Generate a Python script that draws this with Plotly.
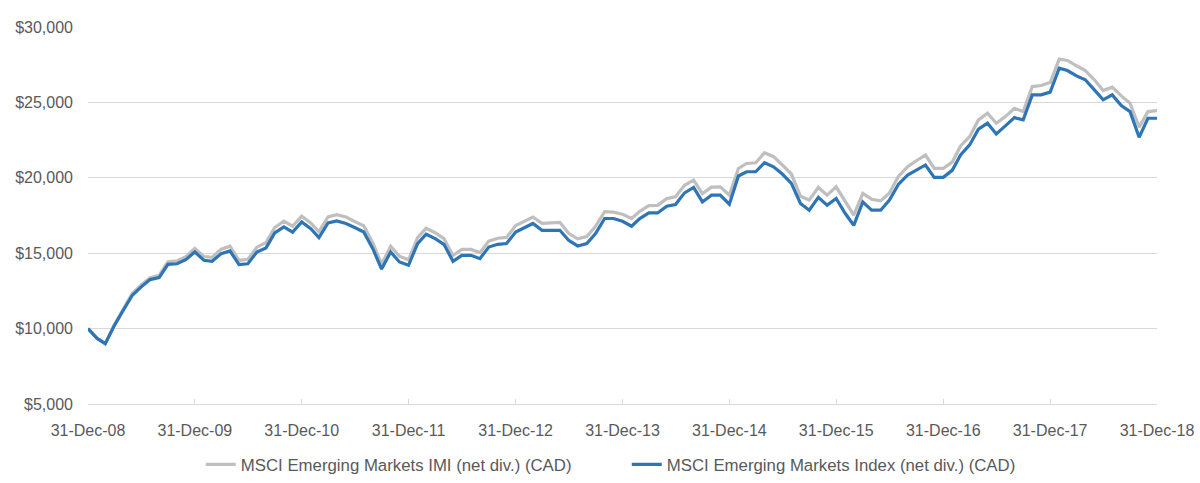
import pandas as pd
import plotly.graph_objects as go

# ---------------- DATA ----------------
start_date = "2008-12-31"
n_months = 121

index_values = [
    10000,
    9350, 9000, 10200, 11200, 12200, 12750, 13250, 13380, 14260, 14300, 14570, 15080,
    14530, 14460, 14970, 15150, 14240, 14300, 15080, 15350, 16340, 16740, 16400, 17070,
    16630, 16040, 17010, 17140, 16970, 16700, 16410, 15300, 13950, 15080, 14420, 14200,
    15640, 16260, 15970, 15590, 14460, 14860, 14860, 14640, 15410, 15590, 15640, 16410,
    16700, 16970, 16520, 16520, 16520, 15860, 15480, 15640, 16300, 17300, 17300, 17120,
    16790, 17300, 17670, 17670, 18120, 18230, 19000, 19360, 18400, 18850, 18850, 18250,
    20120, 20400, 20400, 21000, 20730, 20250, 19630, 18300, 17850, 18700, 18190, 18630,
    17630, 16850, 18400, 17850, 17850, 18520, 19580, 20180, 20510, 20850, 20030, 20030,
    20510, 21510, 22180, 23220, 23620, 22910, 23440, 23990, 23840, 25500, 25500, 25680,
    27270, 27110, 26760, 26500, 25830, 25170, 25500, 24790, 24390, 22690, 23950, 23950,
]

imi_values = [
    10000,
    9360, 9020, 10250, 11280, 12330, 12880, 13380, 13530, 14430, 14490, 14770, 15320,
    14780, 14720, 15260, 15460, 14520, 14600, 15400, 15700, 16700, 17130, 16790, 17450,
    17000, 16430, 17400, 17550, 17400, 17100, 16820, 15680, 14280, 15450, 14800, 14560,
    16030, 16650, 16360, 15960, 14850, 15250, 15250, 15040, 15800, 15990, 16050, 16830,
    17140, 17400, 16980, 17000, 17050, 16320, 15950, 16100, 16780, 17750, 17720, 17580,
    17300, 17780, 18150, 18170, 18620, 18740, 19500, 19850, 18950, 19380, 19400, 18850,
    20620, 20950, 21000, 21660, 21400, 20850, 20250, 18780, 18520, 19360, 18850, 19400,
    18400, 17520, 18960, 18580, 18470, 19000, 20110, 20730, 21130, 21510, 20620, 20620,
    21060, 22110, 22730, 23840, 24280, 23620, 24060, 24610, 24390, 26050, 26120, 26320,
    27870, 27780, 27430, 27110, 26500, 25790, 26010, 25430, 24950, 23350, 24390, 24460,
]

series_names = [
    "MSCI Emerging Markets IMI (net div.) (CAD)",
    "MSCI Emerging Markets Index (net div.) (CAD)",
]

tick_dates = ["2008-12-31", "2009-12-31", "2010-12-31", "2011-12-31", "2012-12-31",
              "2013-12-31", "2014-12-31", "2015-12-31", "2016-12-31", "2017-12-31",
              "2018-12-31"]
tick_labels = ["31-Dec-08", "31-Dec-09", "31-Dec-10", "31-Dec-11", "31-Dec-12",
               "31-Dec-13", "31-Dec-14", "31-Dec-15", "31-Dec-16", "31-Dec-17",
               "31-Dec-18"]

y_ticks = [5000, 10000, 15000, 20000, 25000, 30000]
y_tick_labels = ["$5,000", "$10,000", "$15,000", "$20,000", "$25,000", "$30,000"]
# --------------------------------------

dates = [pd.Timestamp(start_date) + pd.offsets.MonthEnd(i) for i in range(n_months)]

text_color = "#595959"
grid_color = "#d9d9d9"

fig = go.Figure()
fig.add_trace(go.Scatter(
    x=dates, y=imi_values, mode="lines", name=series_names[0],
    line=dict(color="#bfbfbf", width=3.2),
))
fig.add_trace(go.Scatter(
    x=dates, y=index_values, mode="lines", name=series_names[1],
    line=dict(color="#2e75b6", width=3.2),
))

fig.update_layout(
    width=1200, height=483,
    margin=dict(l=88, r=43, t=27, b=79, autoexpand=False),
    paper_bgcolor="white", plot_bgcolor="white",
    font=dict(family="Liberation Sans, Arial, sans-serif", size=16, color=text_color),
    showlegend=True,
    legend=dict(
        orientation="h", x=0.1055, xanchor="left",
        yref="container", y=0.0745, yanchor="top",
        font=dict(family="Liberation Sans, Arial, sans-serif", size=16.8, color=text_color),
        entrywidth=381, entrywidthmode="pixels",
        traceorder="normal",
    ),
)

fig.update_xaxes(
    type="date",
    range=[tick_dates[0], tick_dates[-1]],
    tickvals=tick_dates, ticktext=tick_labels,
    showgrid=False, zeroline=False,
    showline=True, linecolor=grid_color, linewidth=1,
    ticks="inside", ticklen=5, tickcolor=grid_color,
    ticklabelstandoff=12,
    tickfont=dict(size=16, color=text_color),
    automargin=False,
)
fig.update_yaxes(
    range=[5000, 30000],
    tickvals=y_ticks, ticktext=y_tick_labels,
    showgrid=True, gridcolor=grid_color, gridwidth=1,
    zeroline=False, showline=False,
    ticklabelstandoff=14,
    tickfont=dict(size=16, color=text_color),
    automargin=False,
)

fig.write_html("out.html")
